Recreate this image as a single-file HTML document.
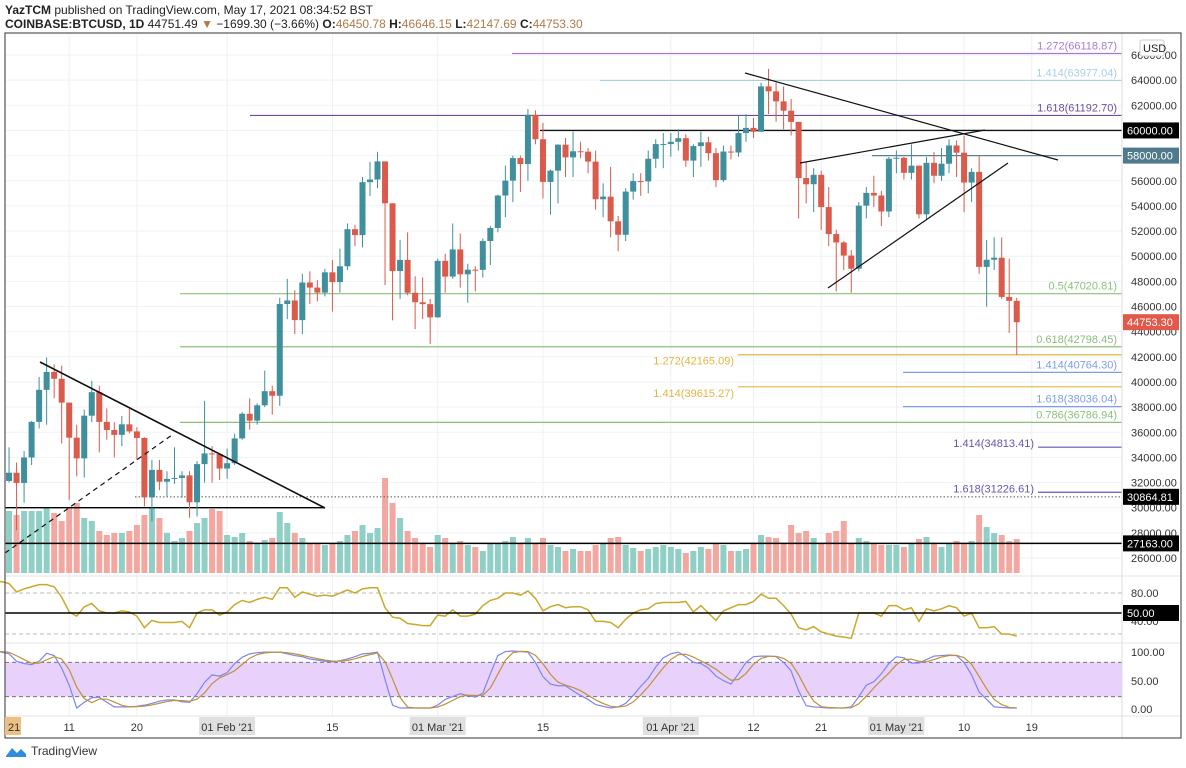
<!DOCTYPE html>
<html><head><meta charset="utf-8"><style>
body{margin:0;background:#fff;width:1186px;height:768px;overflow:hidden;font-family:"Liberation Sans",sans-serif}
#hdr1{position:absolute;left:5px;top:3px;font-size:12px;color:#222}
#hdr2{position:absolute;left:5px;top:17px;font-size:12px;color:#222}
.o{color:#b07a4a}
#tv{position:absolute;left:5px;top:744px;font-size:12px;color:#333;display:flex;align-items:center;gap:4px}
</style></head><body>
<div id="hdr1"><b>YazTCM</b> published on TradingView.com, May 17, 2021 08:34:52 BST</div>
<div id="hdr2"><b>COINBASE:BTCUSD, 1D</b> 44751.49 <span style="color:#b07a4a">▼</span> −1699.30 (−3.66%) <b>O:</b><span class="o">46450.78</span> <b>H:</b><span class="o">46646.15</span> <b>L:</b><span class="o">42147.69</span> <b>C:</b><span class="o">44753.30</span></div>
<svg id="chart" width="1186" height="768" style="position:absolute;left:0;top:0" xmlns="http://www.w3.org/2000/svg" font-family="Liberation Sans, sans-serif"></svg>
<div id="tv"><svg width="22" height="14"><path d="M1 12 L7 4 L12 9 L16 5 L21 10 L21 13 L1 13Z" fill="#2f8bdc"/></svg>TradingView</div>
<script>
const closes=[29374,32127,32782,31971,33992,36824,39371,40797,40254,38356,35566,33923,37316,39187,36825,36178,35792,36630,36069,35547,30825,33005,32067,32289,32366,32569,30432,33466,34316,34269,33114,
33537,35510,37472,36926,38144,39266,38903,46196,46481,44918,47909,47504,47105,48717,47945,49199,52149,51679,55888,56099,57540,54207,48824,49705,47093,46339,46188,45137,
49631,48378,50538,48561,48927,48912,51206,52246,54824,56008,57805,57332,61243,59302,55907,56804,58870,57858,58346,58313,57523,54529,54738,52774,51704,55137,55973,55950,57750,58917,58918,
59095,59384,57603,58758,59057,58192,56048,58323,58245,59793,60204,59893,63503,63109,62314,61572,60683,56216,55724,56473,53906,51762,51093,50050,49004,54021,55033,54824,53555,57750,
57828,56631,57200,53333,57424,56397,57356,58803,58232,55859,56704,49150,49716,49880,46760,46450,44753];
const firstOpen=28990;
const highs=[29600,33300,34800,33600,34500,36900,40400,41950,41400,41300,38300,36600,37800,40100,39700,37900,36800,37300,37850,36400,35600,33800,33800,32900,34800,32900,32900,33700,38500,34900,34300,
34700,35900,37600,38700,38300,40900,39700,46700,48200,47300,48600,48800,48100,49000,49700,50600,52600,52500,56300,57500,58300,57500,54200,51300,51900,48400,48300,46600,
49800,50200,52600,51800,49400,49200,51400,52400,54900,57200,58000,58000,61700,61600,60600,56900,58900,59400,59900,59100,58600,58400,55800,57100,53200,55400,56600,56600,58400,59300,59800,
59800,60100,59700,58900,59900,59500,58600,58800,58800,61200,61300,61000,63800,64900,63800,63500,62500,60400,57500,57000,56800,55500,52100,51200,50500,54300,55500,56400,55200,57900,
58400,57900,58900,57200,57900,58300,58600,59300,59200,59600,57000,58000,51300,51500,51500,49800,46700];
const lows=[28700,29000,32000,28200,30400,33400,36300,36600,38700,35100,30600,32500,32400,36800,34400,35400,34000,34900,35900,33800,30100,28900,31400,30900,31900,30800,29200,29300,32000,32000,32200,
32300,33400,35400,36200,36600,38000,37400,38100,45000,43800,43800,46200,46400,46800,45600,47100,48900,50800,50700,54800,55400,47700,44900,46600,46900,44200,45000,43000,
45100,47100,48200,47500,46300,47200,48300,49300,51900,53100,54300,55100,56000,58900,54600,53300,54200,56300,56300,57800,56600,53700,53100,51500,50400,51200,54500,54800,55000,57000,57000,
57900,58400,57100,56300,57100,57600,55500,55900,57700,57900,59100,59400,61300,61300,60700,60100,59600,53000,54200,53500,52100,50800,47200,48900,47100,48800,53000,53900,52400,53100,
56600,56100,56100,53000,52900,55800,56000,56600,56300,53500,54300,48600,46000,48900,46600,43900,42150];
const volumes=[45,60,62,58,62,62,62,66,60,52,65,70,55,52,42,38,40,40,42,48,58,66,55,40,32,35,42,50,55,64,62,
38,36,40,32,30,33,35,61,50,40,35,30,30,28,30,32,38,42,48,40,45,95,70,55,42,35,30,26,
38,35,30,32,28,26,22,30,30,32,36,30,35,30,35,28,26,22,24,22,22,28,30,35,36,28,25,22,24,26,28,
26,24,20,22,26,24,30,28,22,22,24,30,38,36,35,30,48,40,42,35,30,40,42,52,30,35,32,30,28,28,
28,26,30,34,36,30,26,30,32,30,32,58,46,40,38,32,34];
const rsi=[79,80,78,70,73,75,77,77,75,65,51,47,56,59,52,50,50,52,51,47,36,43,41,41,41,42,36,50,53,53,48,
51,58,62,60,63,65,63,74,74,65,70,68,66,67,66,69,72,69,73,74,74,55,46,45,40,39,38,38,
48,47,53,47,47,49,57,62,64,69,69,67,71,64,52,56,58,55,56,56,53,42,42,41,36,44,50,53,54,59,60,
60,60,61,51,57,50,43,52,55,58,58,61,68,64,64,57,49,36,34,37,32,30,28,27,26,50,50,50,47,57,
57,53,55,42,54,52,54,57,55,47,50,36,36,37,30,30,28];
const stochK=[100,98,95,82,78,76,82,96,92,70,40,0,10,18,19,10,2,2,2,3,5,8,12,14,14,11,10,25,45,58,56,
62,78,89,95,97,98,98,98,95,92,90,86,84,82,81,83,86,90,95,96,98,50,5,0,0,0,0,0,
5,15,20,25,22,19,26,60,92,99,100,99,98,80,55,42,39,39,30,22,15,6,3,0,2,8,22,38,52,72,88,
95,98,90,80,78,70,56,48,42,60,80,90,91,91,90,80,65,30,4,2,1,0,0,0,2,20,40,46,60,78,
90,88,79,79,85,91,92,93,92,80,58,28,15,2,1,0,0];
const priceTicks=[26000,28000,30000,32000,34000,36000,38000,40000,42000,44000,46000,48000,50000,52000,54000,56000,58000,60000,62000,64000,66000];
const timeLabels=[["21",0],["11",10],["20",19],["01 Feb '21",31],["15",45],["01 Mar '21",59],["15",73],["01 Apr '21",90],["12",101],["21",110],["01 May '21",120],["10",129],["19",138]];
const fibLevels=[
 {p:66118.87,t:"1.272(66118.87)",c:"#a77bd6",x0:512,side:"r"},
 {p:63977.04,t:"1.414(63977.04)",c:"#a9cfe6",x0:600,side:"r"},
 {p:61192.70,t:"1.618(61192.70)",c:"#6a4f9e",x0:250,side:"r"},
 {p:47020.81,t:"0.5(47020.81)",c:"#8cbf7a",x0:180,side:"r"},
 {p:42798.45,t:"0.618(42798.45)",c:"#8cbf7a",x0:180,side:"r"},
 {p:42165.09,t:"1.272(42165.09)",c:"#e5b542",x0:738,side:"l"},
 {p:40764.30,t:"1.414(40764.30)",c:"#7d9ee6",x0:903,side:"r"},
 {p:39615.27,t:"1.414(39615.27)",c:"#e5b542",x0:738,side:"l"},
 {p:38036.04,t:"1.618(38036.04)",c:"#7d9ee6",x0:903,side:"r"},
 {p:36786.94,t:"0.786(36786.94)",c:"#8cbf7a",x0:180,side:"r"},
 {p:34813.41,t:"1.414(34813.41)",c:"#6a55b0",x0:1038,side:"m"},
 {p:31226.61,t:"1.618(31226.61)",c:"#6a55b0",x0:1038,side:"m"}];

const NS="http://www.w3.org/2000/svg";
const svg=document.getElementById('chart');
function el(tag,attrs,parent){const e=document.createElementNS(NS,tag);for(const k in attrs)e.setAttribute(k,attrs[k]);(parent||svg).appendChild(e);return e;}
const xDay=d=>-6+7.52*d;
const yPrice=p=>558-(p-26000)*0.012575;
const yRsi=v=>613-(v-50)*1.05;
const ySto=v=>708-v*0.57;
const yVolBase=573, volScale=1.0;
const AX=1122;

const grid=el('g',{});


priceTicks.forEach(p=>el('line',{x1:5,x2:AX,y1:yPrice(p),y2:yPrice(p),stroke:'#f0f2f6'},grid));
timeLabels.forEach(([t,d])=>el('line',{x1:xDay(d),x2:xDay(d),y1:33,y2:716,stroke:'#eef0f4'},grid));

const defs=el('defs',{});
const cp=el('clipPath',{id:'mainclip'},defs);el('rect',{x:5,y:33,width:AX-5,height:543},cp);
const main=el('g',{'clip-path':'url(#mainclip)'});

const vg=el('g',{},main);


closes.forEach((c,i)=>{const o=i?closes[i-1]:firstOpen;const h=volumes[i]*volScale;
 const r=el('rect',{x:xDay(i)-3,y:yVolBase-h,width:6,height:h,fill:c>=o?'#8fcfc6':'#f2a8a0'},vg);
 
 });

fibLevels.forEach(f=>{const y=yPrice(f.p);
 const g=el('g',{},main);
 
 
 el('line',{x1:f.x0,x2:AX,y1:y,y2:y,stroke:f.c,'stroke-width':1.2},g);
 let tx=1117,ty=y-4;
 if(f.side==='l'){tx=f.x0-4;ty=y+10;}
 if(f.side==='m'){tx=f.x0-4;ty=y;}
 const t=el('text',{x:tx,y:ty,'text-anchor':'end','font-size':11,fill:f.c},g);
 t.textContent=f.t;});

function hline(p,x0,stroke,dash,w,name){const l=el('line',{x1:x0,x2:AX,y1:yPrice(p),y2:yPrice(p),stroke:stroke,'stroke-width':w||1,'stroke-dasharray':dash||'none'},main);
 
 }
hline(60000,540,'#111',null,1.3,'resistance-60000');
hline(58000,872,'#5b7f95',null,1.2,'resistance-58000');
hline(30864.81,135,'#555','1.5 2',1,'level-30864');
hline(27163,5,'#000',null,1.6,'support-27163');
const l30=el('line',{x1:5,x2:325,y1:yPrice(30000),y2:yPrice(30000),stroke:'#000','stroke-width':1.4},main);



const cg=el('g',{},main);


closes.forEach((c,i)=>{const o=i?closes[i-1]:firstOpen;const up=c>=o;const col=up?'#3f8f9d':'#da5a4c';const x=xDay(i);
 const g=el('g',{},cg);
 
 
 el('line',{x1:x,x2:x,y1:yPrice(highs[i]),y2:yPrice(lows[i]),stroke:col,'stroke-width':1},g);
 const t=yPrice(Math.max(o,c)),b=yPrice(Math.min(o,c));
 el('rect',{x:x-3,y:t,width:6,height:Math.max(1,b-t),fill:col},g);});

const tl=[[40,362,325,508,'none',1.6],[5,553,172,435,'5 4',1.2],[745,73,1058,160,'none',1.2],[800,163,985,130,'none',1.2],[828,288,1008,163,'none',1.2]];
tl.forEach(a=>{const l=el('line',{x1:a[0],y1:a[1],x2:a[2],y2:a[3],stroke:'#111','stroke-width':a[5],'stroke-dasharray':a[4]},main);
 
 });

el('line',{x1:5,x2:AX,y1:593,y2:593,stroke:'#bbb','stroke-dasharray':'4 3'});
el('line',{x1:5,x2:AX,y1:634,y2:634,stroke:'#bbb','stroke-dasharray':'4 3'});
const rl=el('polyline',{points:rsi.map((v,i)=>xDay(i)+','+yRsi(v)).join(' '),fill:'none',stroke:'#c9a92c','stroke-width':1.5});


const r50=el('line',{x1:5,x2:AX,y1:yRsi(50),y2:yRsi(50),stroke:'#000','stroke-width':1.6});



const band=el('rect',{x:5,y:ySto(80),width:AX-5,height:ySto(20)-ySto(80),fill:'#e8d2fb'});


el('line',{x1:5,x2:AX,y1:ySto(80),y2:ySto(80),stroke:'#777','stroke-dasharray':'4 3'});
el('line',{x1:5,x2:AX,y1:ySto(20),y2:ySto(20),stroke:'#777','stroke-dasharray':'4 3'});
const stochD=stochK.map((v,i)=>{const a=stochK.slice(Math.max(0,i-2),i+1);return a.reduce((s,x)=>s+x,0)/a.length;});
const kl=el('polyline',{points:stochK.map((v,i)=>xDay(i)+','+ySto(v)).join(' '),fill:'none',stroke:'#7b86ee','stroke-width':1.2});


const dl=el('polyline',{points:stochD.map((v,i)=>xDay(i)+','+ySto(v)).join(' '),fill:'none',stroke:'#c0903a','stroke-width':1.2});



[576,643,716].forEach(y=>el('line',{x1:5,x2:1181,y1:y,y2:y,stroke:'#e3e3e3'}));
el('line',{x1:AX,x2:AX,y1:33,y2:738,stroke:'#ddd'});
el('rect',{x:5,y:33,width:1176,height:705,fill:'none',stroke:'#555','stroke-width':1.2});

const pa=el('g',{});


priceTicks.forEach(p=>{const t=el('text',{x:1131,y:yPrice(p)+4,'font-size':11,fill:'#333'},pa);t.textContent=p.toFixed(2);});
function tag(y,txt,bg,name){const g=el('g',{});
 
 
 el('rect',{x:AX+1,y:y-8,width:56,height:16,fill:bg},g);const t=el('text',{x:1127,y:y+4,'font-size':11,fill:'#fff'},g);t.textContent=txt;}
tag(yPrice(60000),'60000.00','#000','tag-60000');
tag(yPrice(58000),'58000.00','#4f7a8c','tag-58000');
tag(yPrice(44753.3),'44753.30','#e0594a','tag-last-price');
tag(yPrice(30864.81),'30864.81','#000','tag-30864');
tag(yPrice(27163),'27163.00','#000','tag-27163');
const usd=el('g',{});


el('rect',{x:1140,y:40,width:24,height:16,fill:'#fff',stroke:'#ccc',rx:2},usd);
const ut=el('text',{x:1143,y:52,'font-size':11,fill:'#222'},usd);ut.textContent='USD';
[[593,'80.00'],[621,'40.00'],[652,'100.00'],[681,'50.00'],[709,'0.00']].forEach(([y,t])=>{const e=el('text',{x:1131,y:y+4,'font-size':11,fill:'#333'});e.textContent=t;});
tag(yRsi(50),'50.00','#000','tag-rsi-50');

const ta=el('g',{});


timeLabels.forEach(([t,d])=>{const x=xDay(d);
 if(t.length>3) el('rect',{x:x-28,y:717,width:56,height:18,fill:'#e0e0e0'},ta);
 if(d===0) el('rect',{x:5,y:717,width:16,height:18,fill:'#eebf84'},ta);
 const e=el('text',{x:d===0?8:x,y:731,'font-size':11,fill:'#333','text-anchor':d===0?'start':'middle'},ta);e.textContent=t;});
</script>
</body></html>
